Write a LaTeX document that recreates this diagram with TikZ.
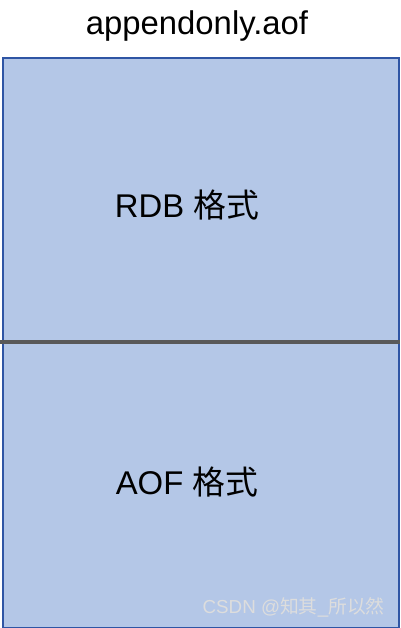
\documentclass[tikz,border=0pt]{standalone}
\usepackage{fontspec}
\setmainfont{Liberation Sans}
\newfontfamily\cjk{Noto Sans CJK SC}
\usetikzlibrary{positioning}
\definecolor{filefill}{HTML}{B4C7E7}
\definecolor{fileedge}{HTML}{2F55A4}
\definecolor{divline}{HTML}{595959}
\definecolor{markgray}{HTML}{DDDDDD}

\begin{document}
\begin{tikzpicture}[
    x=0.02cm, y=-0.02cm,
    label/.style={font=\fontsize{18.7}{22}\selectfont, inner sep=0pt},
    part/.style={draw=fileedge, fill=filefill, line width=1.2pt}
]
\useasboundingbox (0,0) rectangle (400,628);

\node[part, minimum width=7.92cm, minimum height=11.4cm, anchor=north west, inner sep=0pt] (file) at (2,57) {};
\coordinate (cutl) at (0,342);
\coordinate (cutr) at (400,342);
\draw[divline, line width=2.4pt] (cutl) -- (cutr);

\node[label] (title) at (197,26) {appendonly.aof};
\node[label] (rdb) at (187,205) {RDB {\cjk 格式}};
\node[label] (aof) at (187,482) {AOF {\cjk 格式}};

% watermark
\node[font=\fontsize{10.7}{12}\selectfont, text=markgray, inner sep=0pt, anchor=east] (mark) at (385,607) {CSDN @{\cjk 知其}\_{\cjk 所以然}};

\end{tikzpicture}
\end{document}
